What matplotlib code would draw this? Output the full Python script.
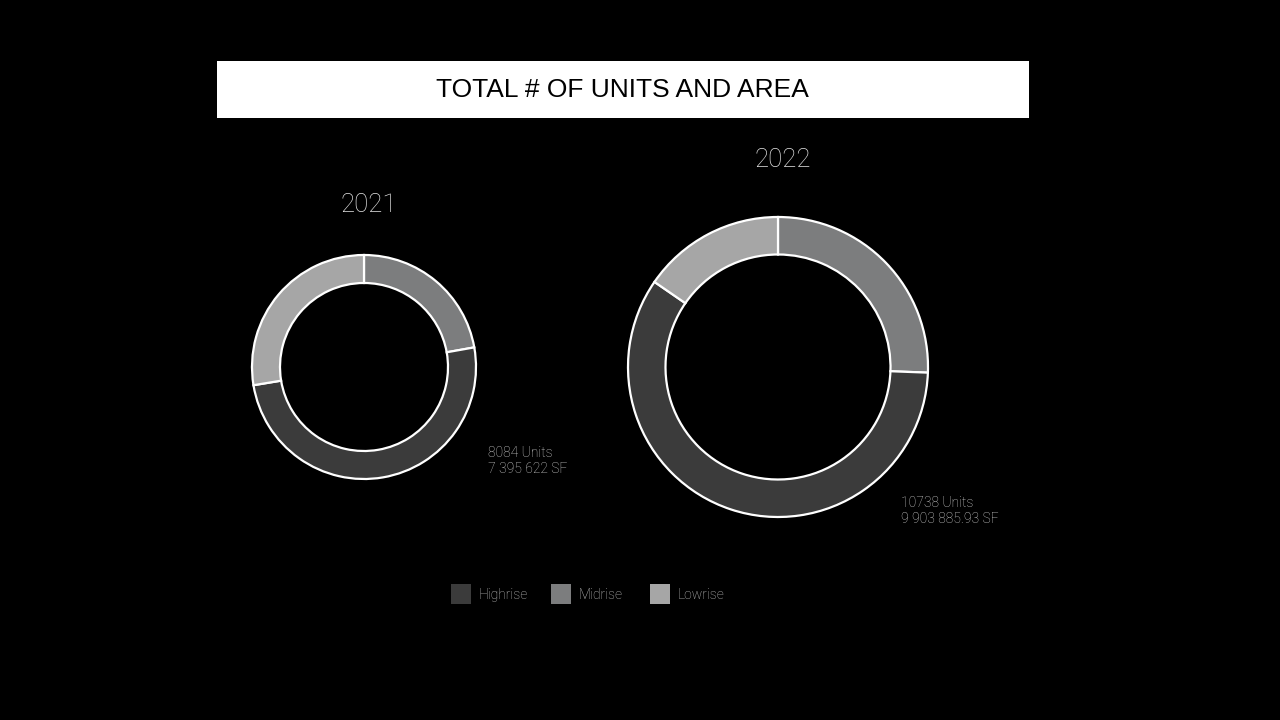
import matplotlib.pyplot as plt
from matplotlib.patches import Rectangle

# Share of units per building type
categories = ["Highrise", "Midrise", "Lowrise"]
share_2021 = [50.2, 22.2, 27.6]
share_2022 = [59.0, 25.6, 15.4]
years = ["2021", "2022"]
totals = ["8084 Units\n7 395 622 SF", "10738 Units\n9 903 885.93 SF"]
title = "TOTAL # OF UNITS AND AREA"

colors = {"Highrise": "#3b3b3b", "Midrise": "#7c7d7e", "Lowrise": "#a6a6a6"}
# draw order clockwise from 12 o'clock
draw_order = ["Midrise", "Highrise", "Lowrise"]

fig = plt.figure(figsize=(12.8, 7.2), dpi=100, facecolor="black")
ax = fig.add_axes([0, 0, 1, 1])
ax.set_facecolor("black")

# pixel-like data coords (y up)
donuts = [
    {"center": (364, 720 - 367), "radius": 112, "data": share_2021},
    {"center": (778, 720 - 367), "radius": 150, "data": share_2022},
]

for d in donuts:
    vals = [d["data"][categories.index(c)] for c in draw_order]
    ax.pie(
        vals,
        colors=[colors[c] for c in draw_order],
        center=d["center"],
        radius=d["radius"],
        startangle=90,
        counterclock=False,
        wedgeprops=dict(width=d["radius"] * 0.25, edgecolor="white", linewidth=1.6),
    )

ax.set_xlim(0, 1280)
ax.set_ylim(0, 720)
ax.set_aspect("equal")
ax.axis("off")

# title banner
fig.patches.append(
    Rectangle((217 / 1280, 1 - 118 / 720), (1029 - 217) / 1280, (118 - 61) / 720,
              transform=fig.transFigure, facecolor="white", edgecolor="none")
)
fig.text(622 / 1280, 1 - 90 / 720, title, ha="center", va="center",
         fontsize=19, color="black", family="Liberation Sans")

# year labels
year_pos = [(369, 205), (783, 160)]
for yr, (x, y) in zip(years, year_pos):
    ax.text(x, 720 - y, yr, ha="center", va="center", fontsize=18.5,
            color="#e4e4e4", family="Roboto", fontweight="light")

# totals
total_pos = [(488, 461), (901, 511)]
for txt, (x, y) in zip(totals, total_pos):
    ax.text(x, 720 - y, txt, ha="left", va="center", fontsize=10,
            color="#d0d0d0", family="Roboto", fontweight="light", linespacing=1.25)

# legend
legend_x = [451, 551, 650]
for cat, x in zip(categories, legend_x):
    ax.add_patch(Rectangle((x, 720 - 604), 20, 20, facecolor=colors[cat], edgecolor="none"))
    ax.text(x + 28, 720 - 595, cat, ha="left", va="center", fontsize=10,
            color="#c0c0c0", family="Roboto", fontweight="light")

fig.savefig("out.png", dpi=100, facecolor="black")
